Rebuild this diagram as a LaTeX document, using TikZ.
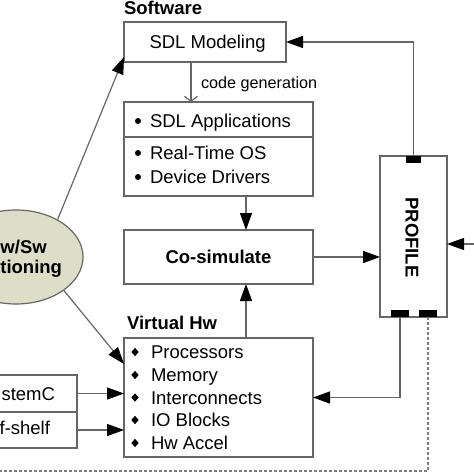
\documentclass[tikz,border=0pt]{standalone}
\usepackage{fontspec}
\setmainfont{Liberation Sans}
\usetikzlibrary{arrows.meta,shapes.geometric}
\definecolor{linegray}{HTML}{666666}
\definecolor{ellfill}{HTML}{DCDEC8}
\begin{document}
\begin{tikzpicture}[x=1pt,y=-1pt,
  box/.style={draw=linegray,line width=1.2pt,inner sep=0pt,outer sep=0pt},
  lbl/.style={inner sep=0pt,outer sep=0pt,anchor=base west,font=\fontsize{18.5}{22}\selectfont},
  blbl/.style={lbl,font=\fontsize{18.5}{22}\selectfont\bfseries},
  conn/.style={draw=linegray,line width=1.2pt},
  arr/.style={conn,-{Triangle[length=17pt,width=12pt,color=black]}},
  barb/.style={conn,-{Straight Barb[length=5pt,width=13pt]}},
  tabmark/.style={fill=black,inner sep=0pt,outer sep=0pt,minimum height=6.5pt},
  dotmark/.style={circle,fill=black,inner sep=0pt,minimum size=6pt},
  diamark/.style={diamond,fill=black,inner sep=0pt,minimum width=7.5pt,minimum height=8.5pt}
]
\useasboundingbox (0,0) rectangle (474,474);
\clip (0,0) rectangle (474,474);

% helper coordinates
\coordinate (cgx) at (191,0);
\coordinate (midx) at (246,0);
\coordinate (inR) at (480,244);
\coordinate (dashL) at (-5,471);
\coordinate (sdltip) at (124,57);
\coordinate (vhwtip) at (124,364);

% Software
\node[blbl] (swlbl) at (124,14.5) {Software};
\node[box,minimum width=162pt,minimum height=40pt] (sdlmod) at (205,42) {};
\node[lbl] (sdlmodt) at (149.5,48.5) {SDL Modeling};
\node[lbl,font=\fontsize{16.2}{19}\selectfont] (cgen) at (201,88) {code generation};

\node[box,minimum width=189pt,minimum height=35pt] (apps) at (218.5,119.5) {};
\node[box,minimum width=189pt,minimum height=59pt] (rtos) at (218.5,166.5) {};
\node[dotmark] (d1) at (138,121) {};
\node[dotmark] (d2) at (138,153) {};
\node[dotmark] (d3) at (138,177) {};
\node[lbl] (t1) at (150,127.6) {SDL Applications};
\node[lbl] (t2) at (150,159.6) {Real-Time OS};
\node[lbl] (t3) at (150,183.6) {Device Drivers};

% Co-simulate
\node[box,minimum width=189pt,minimum height=54pt,font=\fontsize{18.5}{22}\selectfont\bfseries] (cosim) at (218.5,257) {Co-simulate};

% Virtual Hw
\node[blbl] (vhwlbl) at (127,329.5) {Virtual Hw};
\node[box,minimum width=189pt,minimum height=119pt] (vhw) at (218.5,397.5) {};
\node[diamark] (m1) at (135,352) {};
\node[diamark] (m2) at (135,375) {};
\node[diamark] (m3) at (135,397.5) {};
\node[diamark] (m4) at (135,420) {};
\node[diamark] (m5) at (135,443) {};
\node[lbl] (v1) at (151,358.8) {Processors};
\node[lbl] (v2) at (151,381.6) {Memory};
\node[lbl] (v3) at (151,404.2) {Interconnects};
\node[lbl] (v4) at (151,426.8) {IO Blocks};
\node[lbl] (v5) at (151,449.5) {Hw Accel};

% PROFILE
\node[box,minimum width=67pt,minimum height=161pt] (profile) at (413.5,236.5) {};
\node[inner sep=0pt,rotate=-90,font=\fontsize{18.5}{22}\selectfont\bfseries] (proft) at (412,237.5) {PROFILE};
\node[tabmark,minimum width=15pt] (tabtop) at (413.5,159.5) {};
\node[tabmark,minimum width=18pt] (tab1) at (400,313.5) {};
\node[tabmark,minimum width=18pt] (tab2) at (428,313.5) {};

% partitioning ellipse
\node[ellipse,draw=linegray,line width=1.2pt,fill=ellfill,minimum width=134pt,minimum height=94pt,inner sep=0pt] (part) at (16,257) {};
\node[blbl] (pa) at (0.5,253) {w/Sw};
\node[blbl,anchor=base east] (pb) at (62,273.5) {tioning};

% left boxes
\node[box,minimum width=117pt,minimum height=37pt] (sysc) at (18.5,393.5) {};
\node[box,minimum width=117pt,minimum height=36pt] (shelf) at (18.5,430) {};
\node[lbl,anchor=base east] (st) at (55,400) {stemC};
\node[lbl,anchor=base east] (sh) at (50,434) {f-shelf};

% connectors
\draw[barb] (cgx |- sdlmod.south) -- (cgx |- apps.north);
\draw[arr] (midx |- rtos.south) -- (midx |- cosim.north);
\draw[arr] (midx |- vhw.north) -- (midx |- cosim.south);
\draw[arr] (cosim.east) -- (cosim.east -| profile.west);
\draw[arr] (inR) -- (inR -| profile.east);
\draw[arr] (tabtop.north) |- (sdlmod.east);
\draw[arr] (tab1.south) |- (vhw.east);
\draw[draw=linegray!85,line width=1.4pt,dash pattern=on 3pt off 2pt] (tab2.south) |- (dashL);
\draw[arr] (part.42) -- (sdltip);
\draw[arr] (part.-35) -- (vhwtip);
\draw[arr] (sysc.east) -- (sysc.east -| vhw.west);
\draw[arr] (shelf.east) -- (shelf.east -| vhw.west);
\end{tikzpicture}
\end{document}
